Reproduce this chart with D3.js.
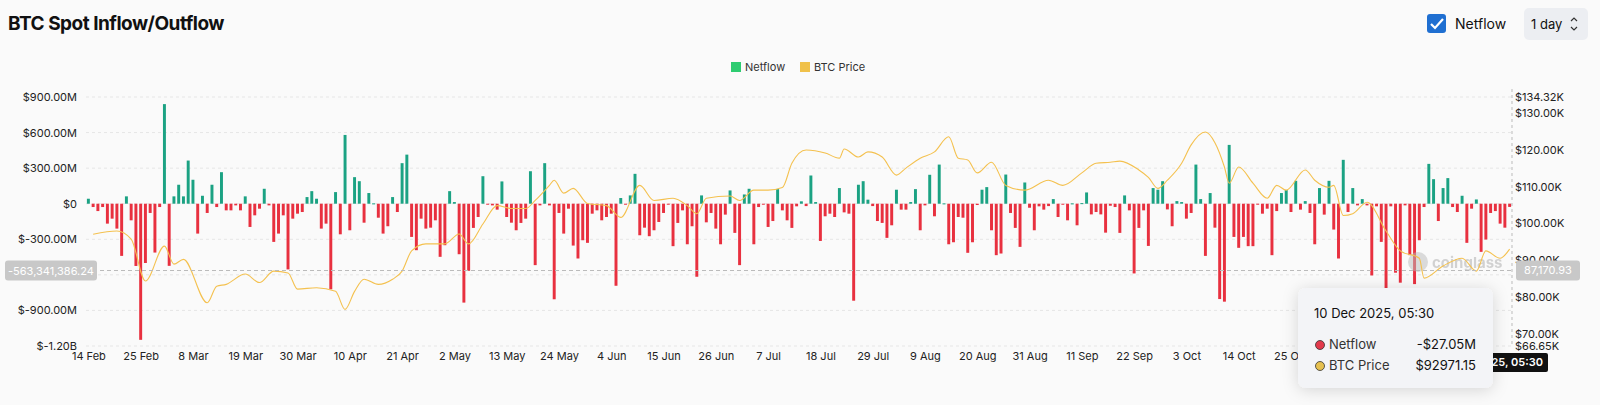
<!DOCTYPE html>
<html><head><meta charset="utf-8">
<script src="https://cdn.jsdelivr.net/npm/d3@7"></script>
<style>body{margin:0;background:#fafafa;font-family:Inter,"Noto Sans",sans-serif}</style>
</head><body><svg id="c" width="1600" height="405"></svg>
<script>
const startDate = "2025-02-14";
const netflowM = [42,-28,-62,-28,-168,-126,-210,-440,62,-140,-525,-1148,-500,-78,-412,-28,840,-524,62,160,62,364,202,-252,67,-78,160,-28,266,-56,-56,-14,-56,62,-196,-98,-42,126,-14,-322,-252,-98,-554,-126,-84,-70,56,106,42,
-210,-168,-722,98,-258,580,-224,224,190,-160,90,3,-118,-252,-190,56,-70,342,414,-280,-392,-126,-210,-202,-140,-448,-350,106,14,-426,-834,-566,-204,-112,232,-8,-14,-50,188,-112,-160,-224,-162,-126,274,-518,-14,342,
-14,-806,-78,-252,-42,-353,-462,-308,-330,-84,-56,-140,-112,-84,-692,48,-8,70,252,-266,-202,-274,-224,-154,-78,-3,-358,-162,-56,-342,-190,-616,70,-157,-78,-210,-342,-92,112,-246,-518,78,126,-342,-28,-3,-196,-146,123,
-56,-140,-204,-22,20,-20,238,14,-314,-106,-84,-112,132,-73,-84,-818,160,190,34,-20,-146,-162,-288,-182,118,-50,-50,14,123,-224,-14,244,-106,330,3,-342,-325,-112,-118,-414,-325,-11,118,140,-224,-434,-420,246,
-78,-204,-364,179,-34,-224,-22,-50,-20,39,-112,-3,-140,3,-182,5,95,-90,-70,-90,-244,-17,-28,-246,70,-56,-588,-204,-56,-356,132,118,190,-48,-190,22,14,-126,-78,330,39,-440,90,-202,-804,-826,496,
-280,-372,-280,-358,-358,-3,-84,-42,-434,-62,90,115,-70,193,-50,22,-78,-342,132,-92,193,-218,-462,370,-70,132,-14,39,-14,-605,-22,-322,-728,-22,-582,-666,-14,-434,-678,-308,-28,336,207,-146,132,216,-28,-70,67,-330,-42,36,-406,-302,-78,-62,-168,-202,-27.05];
const priceDay = [1,6,9,12,16,18,20,25,27,29,33,36,39,42,44,48,52,54,56,58,61,64,66,68,71,75,78,80,83,86,89,92,94,97,98,100,102,105,109,112,116,119,123,126,128,130,135,137,140,143,146,148,151,155,158,159,162,164,167,170,172,175,178,181,183,185,187,190,193,197,202,205,209,212,215,217,221,223,225,227,230,232,235,237,239,240,242,245,248,250,252,256,258,261,262,264,266,269,273,276,280,281,285,289,292,294,297,299];
const priceK = [97.0,97.9,95.7,84.3,93.8,88.9,90.2,78.4,82.9,83.4,86.2,83.9,87.0,86.5,82.1,82.5,81.5,76.6,81.5,84.8,83.4,84.8,87,92.5,94.4,94.4,97.1,94.4,99.8,104.8,104,104,106.2,110.3,111.7,108.2,109.5,105.4,104.8,101.6,110.3,106.2,106.8,104.8,102.6,106.8,107.4,106.2,109,109,109.7,116.3,119.9,119.1,117.7,120.2,118,119.4,118,113.1,115,117.7,119.4,123.5,117.7,117.2,113.7,116.6,110.3,109,111.7,110.3,113.7,116.3,116.6,116.9,114.5,112.5,109.5,111.7,116.3,121.3,124.8,121.9,115.3,110.9,115.3,110.9,106.8,110.3,109,114.5,111.7,109.8,110.3,102.1,102.6,105.7,97.9,92.5,90.5,85.1,88.4,90.5,87,92.5,90.5,92.97];
const xTickLabels = ["14 Feb","25 Feb","8 Mar","19 Mar","30 Mar","10 Apr","21 Apr","2 May","13 May","24 May","4 Jun","15 Jun","26 Jun","7 Jul","18 Jul","29 Jul","9 Aug","20 Aug","31 Aug","11 Sep","22 Sep","3 Oct","14 Oct","25 Oct"];
const leftTicks = [900,600,300,0,-300,-600,-900,-1200];
const leftTickLabels = ["$900.00M","$600.00M","$300.00M","$0","$-300.00M","","$-900.00M","$-1.20B"];
const rightTicks = [134.32,130,120,110,100,90,80,70,66.65];
const hoverNetflow = -563.34138624, hoverPrice = 87.17093;

const svg = d3.select("#c");
const t0 = d3.timeParse("%Y-%m-%d")(startDate);
const dates = netflowM.map((_,i)=>d3.timeDay.offset(t0,i));
const L=86,R=1512,T=97,B=346;
const x = d3.scaleTime().domain([d3.timeHour.offset(dates[0],-12), d3.timeHour.offset(dates[dates.length-1],12)]).range([L,R]);
const y = d3.scaleLinear().domain([-1200,900]).range([B,T]);
const y2 = d3.scaleLinear().domain([66.65,134.32]).range([B,T]);
const fmtD = d3.timeParse("%d %b %Y");

svg.append("g").selectAll("line").data(leftTicks).join("line")
 .attr("x1",L).attr("x2",R).attr("y1",d=>y(d)).attr("y2",d=>y(d))
 .attr("stroke","#e6e6e6").attr("stroke-dasharray","3,3");
svg.append("line").attr("x1",R).attr("x2",R).attr("y1",T-8).attr("y2",B).attr("stroke","#bbb").attr("stroke-dasharray","3,3");

const la = svg.append("g").attr("transform",`translate(80,0)`)
 .call(d3.axisLeft(y).tickValues(leftTicks).tickFormat((d,i)=>leftTickLabels[i]).tickSize(0));
la.select(".domain").remove();
la.selectAll("text").attr("font-size",11).attr("fill","#222").attr("font-family","Inter");
const ra = svg.append("g").attr("transform",`translate(1522,0)`)
 .call(d3.axisRight(y2).tickValues(rightTicks).tickFormat(d=>"$"+d3.format(".2f")(d)+"K").tickSize(0));
ra.select(".domain").remove();
ra.selectAll("text").attr("font-size",11).attr("fill","#222").attr("font-family","Inter").attr("dx",-10);
const xa = svg.append("g").attr("transform",`translate(0,${B+3})`)
 .call(d3.axisBottom(x).tickValues(xTickLabels.map(s=>fmtD(s+" 2025"))).tickFormat((d,i)=>xTickLabels[i]).tickSize(0));
xa.select(".domain").remove();
xa.selectAll("text").attr("font-size",11).attr("fill","#222").attr("font-family","Inter");

const bw = (R-L)/netflowM.length*0.62;
svg.append("g").selectAll("rect").data(netflowM).join("rect")
 .attr("x",(d,i)=>x(dates[i])-bw/2).attr("width",bw)
 .attr("y",d=>y(Math.max(0,d))).attr("height",d=>Math.max(1,Math.abs(y(d)-y(0))))
 .attr("fill",d=>d>=0?"#1ba283":"#e8303f");

const wm = svg.append("g").attr("opacity",0.5);
wm.append("circle").attr("cx",1418).attr("cy",262).attr("r",10).attr("fill","#bbb");
wm.append("text").attr("x",1432).attr("y",268).attr("font-size",15).attr("font-weight",700).attr("fill","#aaa").text("coinglass");

const line = d3.line().x((d,i)=>x(d3.timeDay.offset(t0,priceDay[i]))).y(d=>y2(d)).curve(d3.curveMonotoneX);
svg.append("path").attr("d",line(priceK)).attr("fill","none").attr("stroke","#f4c14f").attr("stroke-width",1.1);

svg.append("line").attr("x1",L).attr("x2",R).attr("y1",y(hoverNetflow)).attr("y2",y(hoverNetflow)).attr("stroke","#bbb").attr("stroke-dasharray","4,3");
svg.append("rect").attr("x",5).attr("y",y(hoverNetflow)-10).attr("width",92).attr("height",20).attr("rx",3).attr("fill","#c8c8c8");
svg.append("text").attr("x",51).attr("y",y(hoverNetflow)+4).attr("text-anchor","middle").attr("font-size",11).attr("fill","#fff").text("-563,341,386.24");
svg.append("rect").attr("x",1516).attr("y",y2(hoverPrice)-10).attr("width",64).attr("height",20).attr("rx",3).attr("fill","#c8c8c8");
svg.append("text").attr("x",1548).attr("y",y2(hoverPrice)+4).attr("text-anchor","middle").attr("font-size",11).attr("fill","#fff").text("87,170.93");
svg.append("rect").attr("x",1420).attr("y",353).attr("width",128).attr("height",19).attr("rx",2).attr("fill","#111");
svg.append("text").attr("x",1543).attr("y",366).attr("text-anchor","end").attr("font-size",11).attr("font-weight",600).attr("fill","#fff").text("10 Dec 2025, 05:30");

const f = svg.append("defs").append("filter").attr("id","sh").attr("x","-30%").attr("y","-30%").attr("width","160%").attr("height","160%");
f.append("feDropShadow").attr("dx",0).attr("dy",2).attr("stdDeviation",8).attr("flood-color","#000").attr("flood-opacity",0.15);
const tt = svg.append("g");
tt.append("rect").attr("x",1298).attr("y",288).attr("width",195).attr("height",100).attr("rx",8).attr("fill","#f3f4f7").attr("filter","url(#sh)");
tt.append("text").attr("x",1314).attr("y",318).attr("font-size",13).attr("fill","#111").text("10 Dec 2025, 05:30");
[["Netflow","-$27.05M","#e33a4c"],["BTC Price","$92971.15","#e6c04f"]].forEach((r,i)=>{
 const yy=349+i*21;
 tt.append("circle").attr("cx",1320).attr("cy",yy-4).attr("r",4.5).attr("fill",r[2]).attr("stroke","#333").attr("stroke-width",0.8);
 tt.append("text").attr("x",1329).attr("y",yy).attr("font-size",13).attr("fill","#333").text(r[0]);
 tt.append("text").attr("x",1476).attr("y",yy).attr("text-anchor","end").attr("font-size",13).attr("fill","#111").text(r[1]);
});

svg.append("text").attr("x",8).attr("y",30).attr("font-size",19).attr("font-weight",700).attr("fill","#111").attr("letter-spacing",-0.5).text("BTC Spot Inflow/Outflow");
svg.append("rect").attr("x",1427).attr("y",14).attr("width",19).attr("height",19).attr("rx",3).attr("fill","#1f6fd1");
svg.append("path").attr("d","M1431,24 l4,4 l8,-9").attr("stroke","#fff").attr("stroke-width",2.2).attr("fill","none");
svg.append("text").attr("x",1455).attr("y",29).attr("font-size",14).attr("fill","#111").text("Netflow");
svg.append("rect").attr("x",1524).attr("y",8).attr("width",64).attr("height",32).attr("rx",5).attr("fill","#eceef2");
svg.append("text").attr("x",1531).attr("y",29).attr("font-size",13).attr("fill","#111").text("1 day");
svg.append("path").attr("d","M1571,21 l3,-3 l3,3 M1571,27 l3,3 l3,-3").attr("stroke","#333").attr("stroke-width",1.2).attr("fill","none");

const lg = [["Netflow","#2ecc71",731],["BTC Price","#f0c14a",800]];
lg.forEach(d=>{
 svg.append("rect").attr("x",d[2]).attr("y",62).attr("width",10).attr("height",10).attr("fill",d[1]);
 svg.append("text").attr("x",d[2]+14).attr("y",71).attr("font-size",11).attr("fill","#333").text(d[0]);
});
</script></body></html>
